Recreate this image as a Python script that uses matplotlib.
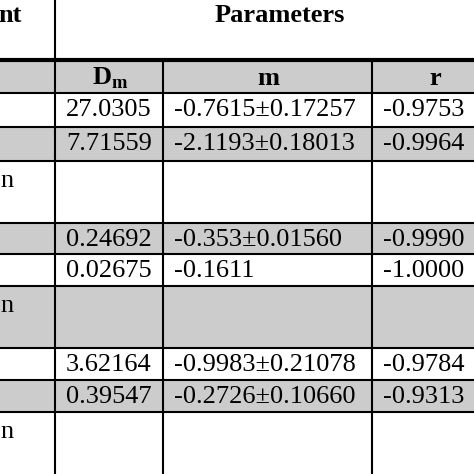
import matplotlib
matplotlib.use("Agg")
import matplotlib.pyplot as plt
from matplotlib.patches import Rectangle

plt.rcParams['font.family'] = ['Liberation Serif', 'DejaVu Serif']

col_headers = ["D$_\\mathregular{m}$", "m", "r"]
Dm = ["27.0305", "7.71559", "", "0.24692", "0.02675", "", "3.62164", "0.39547", ""]
m_vals = ["-0.7615±0.17257", "-2.1193±0.18013", "", "-0.353±0.01560", "-0.1611", "",
          "-0.9983±0.21078", "-0.2726±0.10660", ""]
r_vals = ["-0.9753", "-0.9964", "", "-0.9990", "-1.0000", "", "-0.9784", "-0.9313", ""]
left_labels = ["", "", "n", "", "", "n", "", "", "n"]
shaded = [False, True, False, True, False, True, False, True, False]

# layout (pixels)
row_edges = [93, 127, 161, 223, 254, 286, 348, 380, 412, 474]
GRAY = "#cccccc"
FS = 19

fig = plt.figure(figsize=(4.74, 4.74), dpi=100)
ax = fig.add_axes([0, 0, 1, 1])
ax.set_xlim(0, 474)
ax.set_ylim(474, 0)
ax.axis("off")

ax.add_patch(Rectangle((0, 60), 474, 33, color=GRAY, lw=0))
for i in range(len(Dm)):
    y0, y1 = row_edges[i], row_edges[i + 1]
    if shaded[i]:
        ax.add_patch(Rectangle((0, y0), 474, y1 - y0, color=GRAY, lw=0))
    ty = y0 + 17
    ax.text(66, ty, Dm[i], fontsize=FS, va="center", ha="left")
    ax.text(174, ty, m_vals[i], fontsize=FS, va="center", ha="left")
    ax.text(383, ty, r_vals[i], fontsize=FS, va="center", ha="left")
    if left_labels[i]:
        ax.text(0, y0 + 20, left_labels[i], fontsize=FS, va="center", ha="left")

ax.text(-2, 15, "nt", fontsize=FS, fontweight="bold", va="center", ha="left")
ax.text(280, 15, "Parameters", fontsize=FS, fontweight="bold", va="center", ha="center")
ax.text(110, 78, col_headers[0], fontsize=FS, fontweight="bold", va="center", ha="center")
ax.text(268, 78, col_headers[1], fontsize=FS, fontweight="bold", va="center", ha="center")
ax.text(435, 78, col_headers[2], fontsize=FS, fontweight="bold", va="center", ha="center")

ax.plot([0, 474], [60, 60], color="black", lw=3)
for y in [93] + row_edges[1:-1]:
    ax.plot([0, 474], [y, y], color="black", lw=1.5)
ax.plot([55, 55], [0, 474], color="black", lw=1.5)
for x in [163, 372]:
    ax.plot([x, x], [60, 474], color="black", lw=1.5)

fig.savefig("out.png", dpi=100)
